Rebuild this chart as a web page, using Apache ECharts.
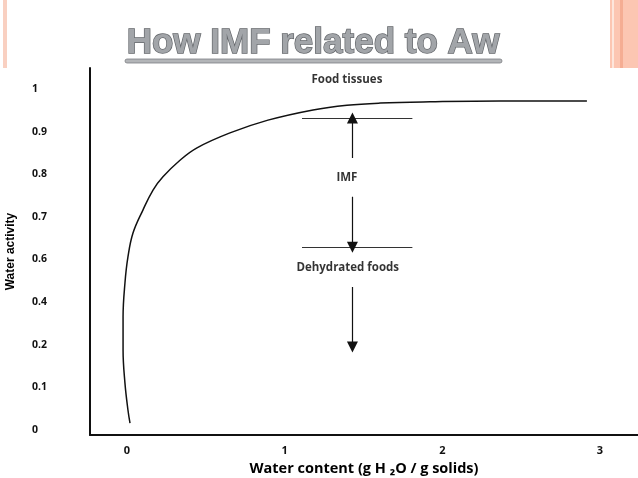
<!DOCTYPE html>
<html>
<head>
<meta charset="utf-8">
<script src="https://cdn.jsdelivr.net/npm/echarts@6/dist/echarts.min.js"></script>
<style>
  html, body { margin: 0; padding: 0; background: #fff; }
  #chart { width: 638px; height: 478px; }
</style>
</head>
<body>
<div id="chart"></div>
<script>
// tick labels on the (hand drawn, evenly spaced) water activity axis
const yTickValues = [0, 0.1, 0.2, 0.4, 0.6, 0.7, 0.8, 0.9, 1]
const yTickLabels = ['0', '0.1', '0.2', '0.4', '0.6', '0.7', '0.8', '0.9', '1']
const xTickValues = [0, 1, 2, 3]

// sorption curve: water content / water activity
const curveWater = [0.019, 0.006, -0.013, -0.025, -0.025, -0.013, 0.006, 0.038, 0.101, 0.165, 0.228, 0.336, 0.444, 0.653, 0.894, 1.180, 1.395, 1.605, 1.922, 2.366, 2.917]
const curveAw    = [0.016, 0.047, 0.110, 0.188, 0.330, 0.490, 0.606, 0.662, 0.716, 0.763, 0.794, 0.833, 0.862, 0.897, 0.927, 0.951, 0.962, 0.967, 0.970, 0.972, 0.972]

// IMF band limits (water activity) and the short lines marking them
const bandAw = [0.932, 0.629]
const bandWater = [1.11, 1.81]

// arrows: water content, start aw, end aw
const arrowWater = [1.43, 1.43, 1.43]
const arrowFrom = [0.838, 0.747, 0.471]
const arrowTo = [0.932, 0.629, 0.195]

// region labels
const noteText = ['Food tissues', 'IMF', 'Dehydrated foods']
const noteWater = [1.395, 1.395, 1.40]
const noteAw = [1.021, 0.791, 0.560]

// aw -> position on the evenly spaced tick axis
function awToPos(aw) {
  const v = yTickValues
  for (let i = 1; i < v.length; i++) {
    if (aw <= v[i] || i === v.length - 1) {
      return i - 1 + (aw - v[i - 1]) / (v[i] - v[i - 1])
    }
  }
}

const chart = echarts.init(document.getElementById('chart'))

const labelFont = '"Open Sans", "DejaVu Sans", sans-serif'

const option = {
  animation: false,
  backgroundColor: '#fff',
  grid: { left: 90, right: 0, top: 68, bottom: 43, outerBoundsMode: 'none', containLabel: false },
  xAxis: {
    type: 'value',
    min: -0.2347,
    max: 3.241,
    name: 'Water content (g H \u2082O / g solids)',
    nameLocation: 'middle',
    nameGap: 26,
    nameTextStyle: { color: '#000', fontSize: 14.5, fontWeight: 'bold', fontFamily: labelFont },
    axisLine: { show: true, onZero: false, lineStyle: { color: '#111', width: 2 } },
    axisTick: { show: false },
    splitLine: { show: false },
    axisLabel: {
      customValues: xTickValues,
      margin: 10,
      color: '#111',
      fontSize: 11,
      fontWeight: 'bold',
      fontFamily: labelFont
    }
  },
  yAxis: {
    type: 'value',
    min: -0.117,
    max: 8.493,
    name: 'Water activity',
    nameLocation: 'middle',
    nameRotate: 90,
    nameGap: 73,
    nameTextStyle: { color: '#000', fontSize: 12, fontWeight: 'bold', fontFamily: '"Liberation Sans Narrow", "Liberation Sans", sans-serif' },
    axisLine: { show: true, onZero: false, lineStyle: { color: '#111', width: 2 } },
    axisTick: { show: false },
    splitLine: { show: false },
    axisLabel: {
      customValues: yTickLabels.map((_, i) => i),
      formatter: v => yTickLabels[Math.round(v)],
      align: 'left',
      margin: 58,
      color: '#111',
      fontSize: 10.5,
      fontWeight: 'bold',
      fontFamily: labelFont
    }
  },
  graphic: [
    { type: 'rect', shape: { x: 3, y: 0, width: 4, height: 68 }, style: { fill: '#f9d0c1' } },
    { type: 'rect', shape: { x: 610, y: 0, width: 28, height: 68 }, style: { fill: '#fcc6b2' } },
    { type: 'rect', shape: { x: 612, y: 0, width: 2, height: 68 }, style: { fill: '#fde6dc' } },
    { type: 'rect', shape: { x: 620, y: 0, width: 3, height: 68 }, style: { fill: '#f5ad93' } },
    {
      type: 'rect',
      shape: { x: 125, y: 59, width: 377, height: 4, r: 2 },
      style: { fill: '#b3b5b8', stroke: '#7c7f83', lineWidth: 0.8 }
    },
    {
      type: 'text',
      x: 313,
      y: 43,
      style: {
        text: 'How IMF related to Aw',
        font: 'bold 35px "Liberation Sans", Arial, sans-serif',
        fill: '#a2a5a9',
        stroke: '#63666a',
        lineWidth: 1.4,
        textAlign: 'center',
        textVerticalAlign: 'middle',
        shadowColor: 'rgba(0,0,0,0.25)',
        shadowBlur: 2,
        shadowOffsetY: 1
      }
    }
  ],
  series: [
    {
      type: 'line',
      data: curveWater.map((w, i) => [w, awToPos(curveAw[i])]),
      smooth: 0.4,
      symbol: 'none',
      lineStyle: { color: '#111', width: 1.5 }
    },
    {
      type: 'lines',
      coordinateSystem: 'cartesian2d',
      symbol: 'none',
      lineStyle: { color: '#333', width: 1, opacity: 1 },
      data: bandAw.map(aw => ({ coords: [[bandWater[0], awToPos(aw)], [bandWater[1], awToPos(aw)]] }))
    },
    {
      type: 'lines',
      coordinateSystem: 'cartesian2d',
      symbol: ['none', 'triangle'],
      symbolSize: [9, 11],
      lineStyle: { color: '#111', width: 1.2, opacity: 1 },
      itemStyle: { color: '#111' },
      data: arrowWater.map((w, i) => ({ coords: [[w, awToPos(arrowFrom[i])], [w, awToPos(arrowTo[i])]] }))
    },
    {
      type: 'scatter',
      symbolSize: 0,
      itemStyle: { color: '#000' },
      label: {
        show: true,
        position: 'inside',
        formatter: p => p.name,
        color: '#000',
        textBorderWidth: 0,
        fontSize: 11.5,
        fontWeight: 'bold',
        fontFamily: labelFont
      },
      data: noteText.map((t, i) => ({ name: t, value: [noteWater[i], awToPos(noteAw[i])] }))
    }
  ]
}

chart.setOption(option)
</script>
</body>
</html>
